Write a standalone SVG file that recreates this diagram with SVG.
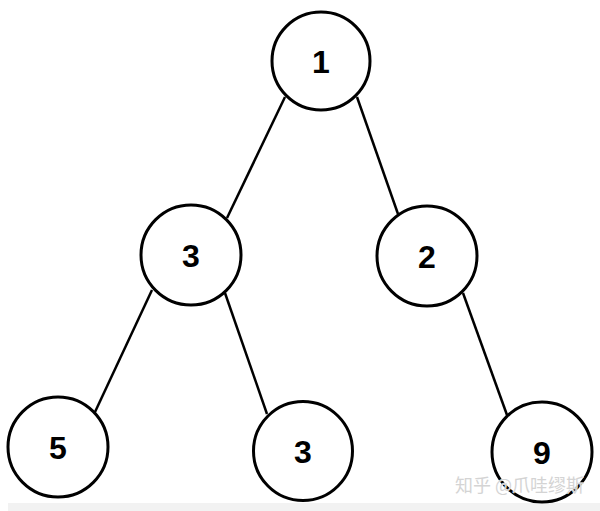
<svg xmlns="http://www.w3.org/2000/svg" width="600" height="511" viewBox="0 0 600 511">
<style>
.node circle{fill:#ffffff;stroke:#000000;stroke-width:3}
.node text{font-family:"Liberation Sans",Arial,sans-serif;font-weight:bold;font-size:32px;fill:#000000;text-anchor:middle}
.edge{stroke:#000000;stroke-width:2.5;fill:none}
.wm{font-family:"Noto Sans CJK SC","Noto Sans",sans-serif;font-size:18px;fill:#d4d4d4;stroke:#ffffff;stroke-width:0.6;paint-order:stroke}
</style>
<rect x="0" y="0" width="600" height="511" fill="#ffffff"/>
<rect x="8" y="503" width="592" height="8" fill="#f2f2f2"/>
<g id="connectors">
<line class="edge" x1="285" y1="97" x2="227" y2="218"/>
<line class="edge" x1="357" y1="97" x2="398" y2="214"/>
<line class="edge" x1="152" y1="290" x2="95" y2="412"/>
<line class="edge" x1="225" y1="293" x2="267" y2="414"/>
<line class="edge" x1="463" y1="293" x2="507" y2="415"/>
</g>
<g id="node1" class="node"><circle cx="321" cy="61" r="49"/><text x="321" y="73">1</text></g>
<g id="node3a" class="node"><circle cx="191" cy="255" r="50"/><text x="191" y="267">3</text></g>
<g id="node2" class="node"><circle cx="427" cy="256" r="50"/><text x="427" y="268">2</text></g>
<g id="node5" class="node"><circle cx="58" cy="447" r="50"/><text x="58" y="459">5</text></g>
<g id="node3b" class="node"><circle cx="303" cy="451" r="49.5"/><text x="303" y="463">3</text></g>
<g id="node9" class="node"><circle cx="542" cy="452" r="50"/><text x="542" y="464">9</text></g>
<text class="wm" x="455" y="492">知乎 @爪哇缪斯</text>
</svg>
